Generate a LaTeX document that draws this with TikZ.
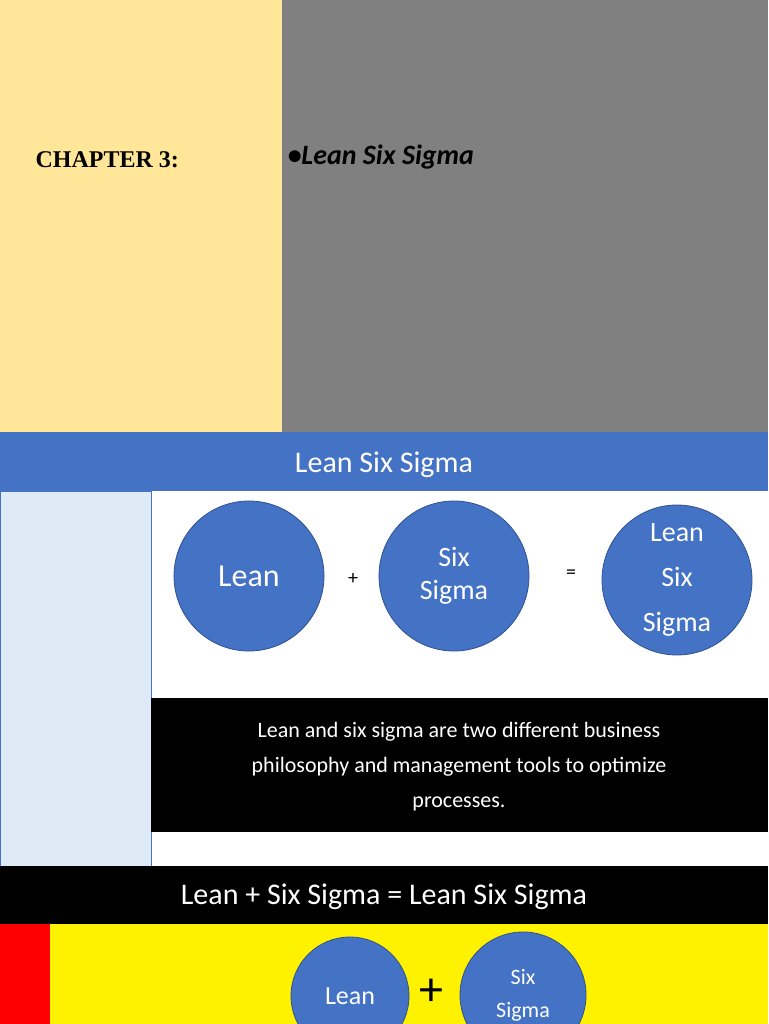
\documentclass[tikz,border=0pt]{standalone}
\usepackage{fontspec}
\setmainfont{Carlito}
\newfontfamily\serifb{Liberation Serif}
\definecolor{beige}{HTML}{FFE699}
\definecolor{grayb}{HTML}{808080}
\definecolor{bluebar}{HTML}{4472C4}
\definecolor{lightb}{HTML}{DEEBF7}
\definecolor{circ}{HTML}{4472C4}
\definecolor{circedge}{HTML}{2F528F}
\begin{document}
\begin{tikzpicture}[x=1pt,y=-1pt,
  bubble/.style={circle,fill=circ,draw=circedge,line width=0.8pt,text=white,align=center,inner sep=0pt},
  wtext/.style={text=white}]
\useasboundingbox (0,0) rectangle (768,1024);
\fill[beige] (0,0) rectangle (282,432);
\fill[grayb] (282,0) rectangle (768,432);
\node[anchor=west,font=\serifb\bfseries\fontsize{24}{28}\selectfont] (ch) at (32,160) {CHAPTER 3:};
\node[anchor=west,font=\bfseries\itshape\fontsize{28}{32}\selectfont] (ls) at (284,157) {•Lean Six Sigma};
\fill[white] (0,432) rectangle (768,866);
\fill[bluebar] (0,432) rectangle (768,491);
\node[wtext,font=\fontsize{30}{34}\selectfont] (t1) at (384,465) {Lean Six Sigma};
\filldraw[fill=lightb,draw=bluebar,line width=0.6pt] (0,491) rectangle (151,866);
\draw[bluebar,line width=0.6pt] (151,698) -- (768,698);
\node[bubble,minimum size=150pt,font=\fontsize{32}{36}\selectfont] (c1) at (249,576) {Lean};
\node[bubble,minimum size=150pt,font=\fontsize{28}{33}\selectfont] (c2) at (454,576) {Six\\Sigma};
\node[bubble,minimum size=150pt,font=\fontsize{28}{45}\selectfont] (c3) at (677,580) {Lean\\Six\\Sigma};
\node[font=\fontsize{20}{24}\selectfont] (p) at (353,579) {+};
\node[font=\fontsize{20}{24}\selectfont] (e) at (571,574) {=};
\fill[black] (151,698) rectangle (768,832);
\node[wtext,align=center,font=\fontsize{22}{35}\selectfont] (d) at (459,767) {Lean and six sigma are two different business\\philosophy and management tools to optimize\\processes.};
\fill[black] (0,866) rectangle (768,924);
\node[wtext,font=\fontsize{30}{34}\selectfont] (t2) at (384,897) {Lean + Six Sigma = Lean Six Sigma};
\fill[red] (0,924) rectangle (50,1024);
\fill[yellow] (50,924) rectangle (768,1024);
\begin{scope}
\clip (0,924) rectangle (768,1024);
\node[bubble,minimum size=118pt,font=\fontsize{26}{30}\selectfont] (c4) at (350,996) {Lean};
\node[bubble,minimum size=126pt,font=\fontsize{22}{33}\selectfont] (c5) at (523,995) {Six\\Sigma};
\end{scope}
\node[font=\fontsize{48}{52}\selectfont] (p2) at (431,992) {+};
\end{tikzpicture}
\end{document}
